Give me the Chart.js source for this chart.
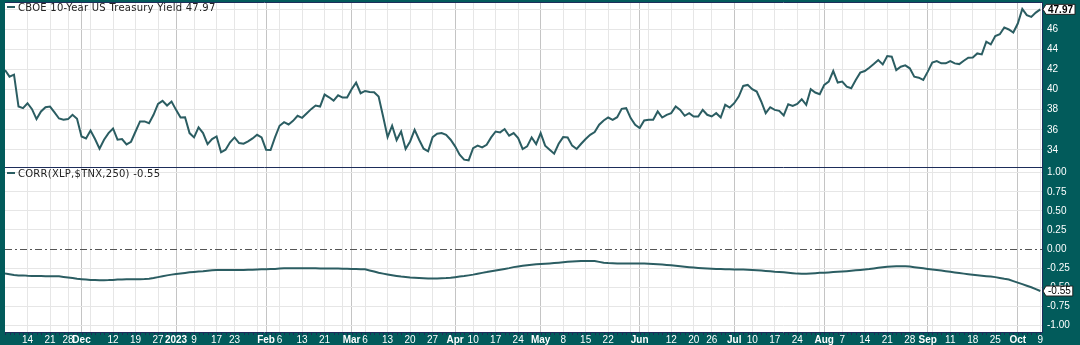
<!DOCTYPE html>
<html>
<head>
<meta charset="utf-8">
<script src="https://cdn.jsdelivr.net/npm/chart.js@4.4.1/dist/chart.umd.min.js"></script>
<style>
  html, body { margin:0; padding:0; background:#025b5b; width:1080px; height:345px; overflow:hidden; }
  #wrap { position:relative; width:1080px; height:345px; }
  #top { position:absolute; left:0; top:0; }
  #bot { position:absolute; left:0; top:167px; }
  .lg { position:absolute; left:7px; font:10px "DejaVu Sans", sans-serif; letter-spacing:0.25px; color:#222; white-space:nowrap; }
  .lg i { display:inline-block; width:8px; height:2px; background:#2b5d62; vertical-align:middle; margin-right:3px; position:relative; top:-1px; }
</style>
</head>
<body>
<div id="wrap">
  <canvas id="top" width="1080" height="167"></canvas>
  <canvas id="bot" width="1080" height="178"></canvas>
  <div class="lg" style="top:2px"><i></i>CBOE 10-Year US Treasury Yield 47.97</div>
  <div class="lg" style="top:168px"><i></i>CORR(XLP,$TNX,250) -0.55</div>
</div>
<script>
// trading days shown: 2022-11-07 .. 2023-10-09
const firstDay = '2022-11-07';
const lastDay = '2023-10-09';
const holidays = ['2022-11-24','2022-12-26','2023-01-02','2023-01-16','2023-02-20',
  '2023-04-07','2023-05-29','2023-06-19','2023-07-04','2023-09-04'];

// $TNX close, one value per trading day
const yieldVals = [
  41.94,41.28,41.48,38.31,38.15,38.64,38.05,37.06,37.82,38.24,
  38.31,37.72,37.12,36.99,37.06,37.49,37.09,35.34,35.14,35.93,
  35.08,34.12,35.01,35.67,36.13,35.01,35.08,34.55,34.81,35.83,
  36.83,36.83,36.66,37.49,38.57,38.87,38.41,38.81,37.98,37.22,
  37.25,35.67,35.24,36.23,35.67,34.58,35.08,35.34,33.76,34.02,
  34.75,35.24,34.68,34.61,34.84,35.14,35.50,35.24,34.02,33.99,
  35.27,36.40,36.76,36.53,36.89,37.39,37.19,37.62,38.05,38.41,
  38.31,39.50,39.23,38.90,39.43,39.20,39.20,40.03,40.69,39.63,
  39.86,39.76,39.73,39.30,37.32,35.27,36.40,34.98,35.83,34.09,
  34.84,36.00,35.01,34.12,33.86,35.27,35.60,35.67,35.50,35.01,
  34.35,33.52,33.03,32.96,34.18,34.42,34.25,34.51,35.24,35.83,
  35.74,36.07,35.41,35.67,35.17,34.09,34.35,35.24,34.58,35.67,
  34.42,34.02,33.62,34.61,35.27,35.24,34.42,34.09,34.61,35.08,
  35.50,35.77,36.50,36.92,37.22,36.99,37.25,38.08,38.15,37.16,
  36.50,36.17,36.92,36.99,36.99,37.82,37.22,37.49,37.65,38.31,
  37.98,37.39,37.65,37.32,37.32,37.98,37.49,37.32,37.65,37.22,
  38.48,38.21,38.64,39.30,40.36,40.46,40.03,39.80,38.81,37.65,
  38.24,37.98,37.88,37.42,38.54,38.38,38.57,39.04,38.48,40.03,
  39.70,39.53,40.46,40.79,41.84,40.69,40.79,40.29,40.13,40.95,
  41.68,41.84,42.17,42.53,42.93,42.50,43.33,43.26,41.94,42.27,
  42.40,42.11,41.28,41.18,40.95,41.78,42.67,42.83,42.60,42.60,
  42.83,42.60,42.53,42.86,43.16,43.19,43.59,43.49,44.75,44.48,
  45.31,45.50,46.17,45.97,45.67,46.56,48.01,47.39,47.22,47.65,
  47.97
];

// CORR(XLP,$TNX,250), one value per trading day
const corrVals = [
  -0.320,-0.330,-0.340,-0.345,-0.345,-0.350,-0.352,-0.354,-0.354,-0.355,
  -0.356,-0.357,-0.358,-0.365,-0.372,-0.380,-0.390,-0.395,-0.400,-0.405,
  -0.407,-0.408,-0.408,-0.407,-0.404,-0.400,-0.398,-0.397,-0.396,-0.395,
  -0.395,-0.394,-0.390,-0.380,-0.368,-0.357,-0.345,-0.335,-0.327,-0.320,
  -0.313,-0.305,-0.300,-0.295,-0.290,-0.283,-0.277,-0.274,-0.274,-0.274,
  -0.274,-0.274,-0.274,-0.273,-0.271,-0.270,-0.268,-0.266,-0.264,-0.262,
  -0.260,-0.256,-0.253,-0.252,-0.252,-0.252,-0.253,-0.253,-0.253,-0.253,
  -0.254,-0.254,-0.255,-0.255,-0.256,-0.257,-0.258,-0.260,-0.262,-0.264,
  -0.266,-0.280,-0.295,-0.310,-0.322,-0.333,-0.343,-0.352,-0.360,-0.366,
  -0.372,-0.376,-0.380,-0.383,-0.385,-0.385,-0.385,-0.383,-0.380,-0.375,
  -0.368,-0.360,-0.354,-0.345,-0.335,-0.323,-0.312,-0.302,-0.290,-0.280,
  -0.270,-0.260,-0.250,-0.237,-0.228,-0.220,-0.212,-0.205,-0.200,-0.196,
  -0.192,-0.188,-0.183,-0.178,-0.173,-0.168,-0.163,-0.159,-0.156,-0.155,
  -0.155,-0.158,-0.168,-0.180,-0.184,-0.186,-0.188,-0.190,-0.190,-0.190,
  -0.190,-0.190,-0.190,-0.193,-0.197,-0.200,-0.204,-0.208,-0.212,-0.218,
  -0.225,-0.232,-0.238,-0.243,-0.247,-0.250,-0.254,-0.258,-0.261,-0.263,
  -0.265,-0.266,-0.267,-0.268,-0.269,-0.270,-0.274,-0.278,-0.282,-0.287,
  -0.292,-0.297,-0.300,-0.305,-0.310,-0.316,-0.322,-0.324,-0.323,-0.320,
  -0.316,-0.312,-0.310,-0.306,-0.302,-0.298,-0.294,-0.290,-0.285,-0.279,
  -0.273,-0.268,-0.262,-0.254,-0.246,-0.238,-0.232,-0.228,-0.226,-0.226,
  -0.226,-0.230,-0.238,-0.246,-0.253,-0.260,-0.267,-0.274,-0.282,-0.290,
  -0.298,-0.306,-0.314,-0.322,-0.330,-0.337,-0.344,-0.350,-0.355,-0.360,
  -0.368,-0.378,-0.390,-0.400,-0.420,-0.440,-0.460,-0.480,-0.500,-0.525,
  -0.550
];

const yieldTicks = [34, 36, 38, 40, 42, 44, 46, 48];
const corrTicks = [-1, -0.75, -0.5, -0.25, 0, 0.25, 0.5, 0.75, 1];

const xTickLabels = [
  ['2022-11-14','14'],['2022-11-21','21'],['2022-11-28','28'],['2022-12-01','Dec'],
  ['2022-12-12','12'],['2022-12-19','19'],['2022-12-27','27'],['2023-01-03','2023'],
  ['2023-01-09','9'],['2023-01-17','17'],['2023-01-23','23'],['2023-02-01','Feb'],
  ['2023-02-06','6'],['2023-02-13','13'],['2023-02-21','21'],['2023-03-01','Mar'],
  ['2023-03-06','6'],['2023-03-13','13'],['2023-03-20','20'],['2023-03-27','27'],
  ['2023-04-03','Apr'],['2023-04-10','10'],['2023-04-17','17'],['2023-04-24','24'],
  ['2023-05-01','May'],['2023-05-08','8'],['2023-05-15','15'],['2023-05-22','22'],
  ['2023-06-01','Jun'],['2023-06-12','12'],['2023-06-20','20'],['2023-06-26','26'],
  ['2023-07-03','Jul'],['2023-07-10','10'],['2023-07-17','17'],['2023-07-24','24'],
  ['2023-08-01','Aug'],['2023-08-07','7'],['2023-08-14','14'],['2023-08-21','21'],
  ['2023-08-28','28'],['2023-09-01','Sep'],['2023-09-11','11'],['2023-09-18','18'],
  ['2023-09-25','25'],['2023-10-02','Oct'],['2023-10-09','9']
];

const LINE = '#2b5d62';
const FRAME = '#1d2d5a';
const FONT = 'Liberation Sans';

// build the trading calendar
const dates = [];
for (let d = new Date(firstDay + 'T00:00:00Z'); d <= new Date(lastDay + 'T00:00:00Z'); d.setUTCDate(d.getUTCDate() + 1)) {
  const s = d.toISOString().slice(0, 10);
  const wd = d.getUTCDay();
  if (wd === 0 || wd === 6 || holidays.includes(s)) continue;
  dates.push(s);
}

// grid lines: first trading day of each week, first trading day of each month
const weekStarts = [], monthStarts = [];
dates.forEach((s, i) => {
  if (i === 0) return;
  const a = new Date(dates[i - 1] + 'T00:00:00Z'), b = new Date(s + 'T00:00:00Z');
  if (b.getUTCDay() < a.getUTCDay() || (b - a) >= 7 * 864e5) weekStarts.push(i);
  if (s.slice(5, 7) !== dates[i - 1].slice(5, 7)) monthStarts.push(i);
});
const gridIdx = [...new Set([...weekStarts, ...monthStarts])].sort((a, b) => a - b);
const labelAt = {};
xTickLabels.forEach(([d, t]) => { const i = dates.indexOf(d); if (i >= 0) labelAt[i] = t; });
const isBold = t => t === '2023' || /^[A-Z]/.test(t);

const X_MAX = dates.length - 1 + 0.6;

const noPad = s => { s.paddingTop = 0; s.paddingBottom = 0; s.paddingLeft = 0; s.paddingRight = 0; };

const xScale = (showLabels) => ({
  type: 'linear', min: 0, max: X_MAX,
  afterBuildTicks: a => { a.ticks = gridIdx.map(v => ({ value: v })); },
  afterFit: s => { s.height = showLabels ? 12 : 0; noPad(s); },
  ticks: {
    display: showLabels, autoSkip: false, maxRotation: 0, minRotation: 0, padding: 1,
    color: '#fff',
    font: c => ({ family: FONT, size: 10, weight: isBold(labelAt[c.tick ? c.tick.value : -1] || '') ? 'bold' : 'normal' }),
    callback: v => labelAt[v] || ''
  },
  grid: { color: c => monthStarts.includes(c.tick.value) ? '#c4c4c4' : '#e6e6e6', drawTicks: false },
  border: { display: false }
});

const yScale = (min, max, ticks, fmt) => ({
  position: 'right', min, max,
  afterBuildTicks: a => { a.ticks = ticks.map(v => ({ value: v })); },
  afterFit: s => { s.width = 37; noPad(s); },
  ticks: { color: '#fff', font: { family: FONT, size: 10 }, padding: 4, callback: fmt },
  grid: { color: c => c.tick.value === 0 && min < 0 ? 'rgba(0,0,0,0)' : '#e6e6e6', drawTicks: false },
  border: { display: false }
});

const panelPlugin = (tagText, bold, zeroLine, bottomEdge) => ({
  id: 'panel',
  beforeDraw(chart) {
    const { ctx, chartArea: a } = chart;
    ctx.save();
    ctx.fillStyle = '#fff';
    ctx.fillRect(a.left, a.top, a.right - a.left, a.bottom - a.top);
    ctx.restore();
  },
  beforeDatasetsDraw(chart) {
    if (!zeroLine) return;
    const { ctx, chartArea: a, scales: { y } } = chart;
    const py = Math.round(y.getPixelForValue(0)) + 0.5;
    ctx.save();
    ctx.strokeStyle = '#555';
    ctx.lineWidth = 1;
    ctx.setLineDash([7, 3, 2, 3]);
    ctx.beginPath(); ctx.moveTo(a.left, py); ctx.lineTo(a.right, py); ctx.stroke();
    ctx.restore();
  },
  afterDraw(chart) {
    const { ctx, chartArea: a, scales: { x, y } } = chart;
    ctx.save();
    ctx.strokeStyle = FRAME;
    ctx.lineWidth = 1;
    ctx.beginPath();
    ctx.moveTo(a.left, a.top + 0.5); ctx.lineTo(a.right, a.top + 0.5);
    ctx.moveTo(a.right - 0.5, a.top); ctx.lineTo(a.right - 0.5, a.bottom);
    if (bottomEdge) {
      ctx.moveTo(a.left, a.bottom - 0.5); ctx.lineTo(a.right, a.bottom - 0.5);
      // small daily ticks under the frame
      dates.forEach((d, i) => {
        const px = Math.round(x.getPixelForValue(i)) + 0.5;
        ctx.moveTo(px, a.bottom); ctx.lineTo(px, a.bottom + 2);
      });
    }
    ctx.stroke();
    // last value tag
    const data = chart.data.datasets[0].data;
    const py = y.getPixelForValue(data[data.length - 1].y);
    ctx.font = (bold ? 'bold ' : '') + '10px ' + FONT;
    const w = ctx.measureText(tagText).width + 4, h = 10, x0 = a.right + 3;
    ctx.beginPath();
    ctx.moveTo(a.right, py);
    ctx.lineTo(x0, py - h / 2); ctx.lineTo(x0 + w, py - h / 2);
    ctx.lineTo(x0 + w, py + h / 2); ctx.lineTo(x0, py + h / 2);
    ctx.closePath();
    ctx.fillStyle = '#fff'; ctx.fill();
    ctx.strokeStyle = '#222'; ctx.stroke();
    ctx.fillStyle = '#000'; ctx.textBaseline = 'middle'; ctx.textAlign = 'left';
    ctx.fillText(tagText, x0 + 2, py + 0.5);
    ctx.restore();
  }
});

const lineSet = vals => ({
  data: vals.map((v, i) => ({ x: i, y: v })),
  borderColor: LINE, borderWidth: 2, pointRadius: 0, tension: 0, fill: false
});

const common = (padTop) => ({
  responsive: false, animation: false,
  layout: { padding: { left: 5, top: padTop, right: 0, bottom: 0 } },
  plugins: { legend: { display: false }, tooltip: { enabled: false } }
});

new Chart(document.getElementById('top'), {
  type: 'line',
  data: { datasets: [lineSet(yieldVals)] },
  options: Object.assign(common(2), {
    scales: { x: xScale(false), y: yScale(32.3, 48.7, yieldTicks, v => String(v)) }
  }),
  plugins: [panelPlugin('47.97', true, false, false)]
});

new Chart(document.getElementById('bot'), {
  type: 'line',
  data: { datasets: [lineSet(corrVals)] },
  options: Object.assign(common(0), {
    scales: { x: xScale(true), y: yScale(-1.10, 1.075, corrTicks, v => v.toFixed(2)) }
  }),
  plugins: [panelPlugin('-0.55', false, true, true)]
});
</script>
</body>
</html>
